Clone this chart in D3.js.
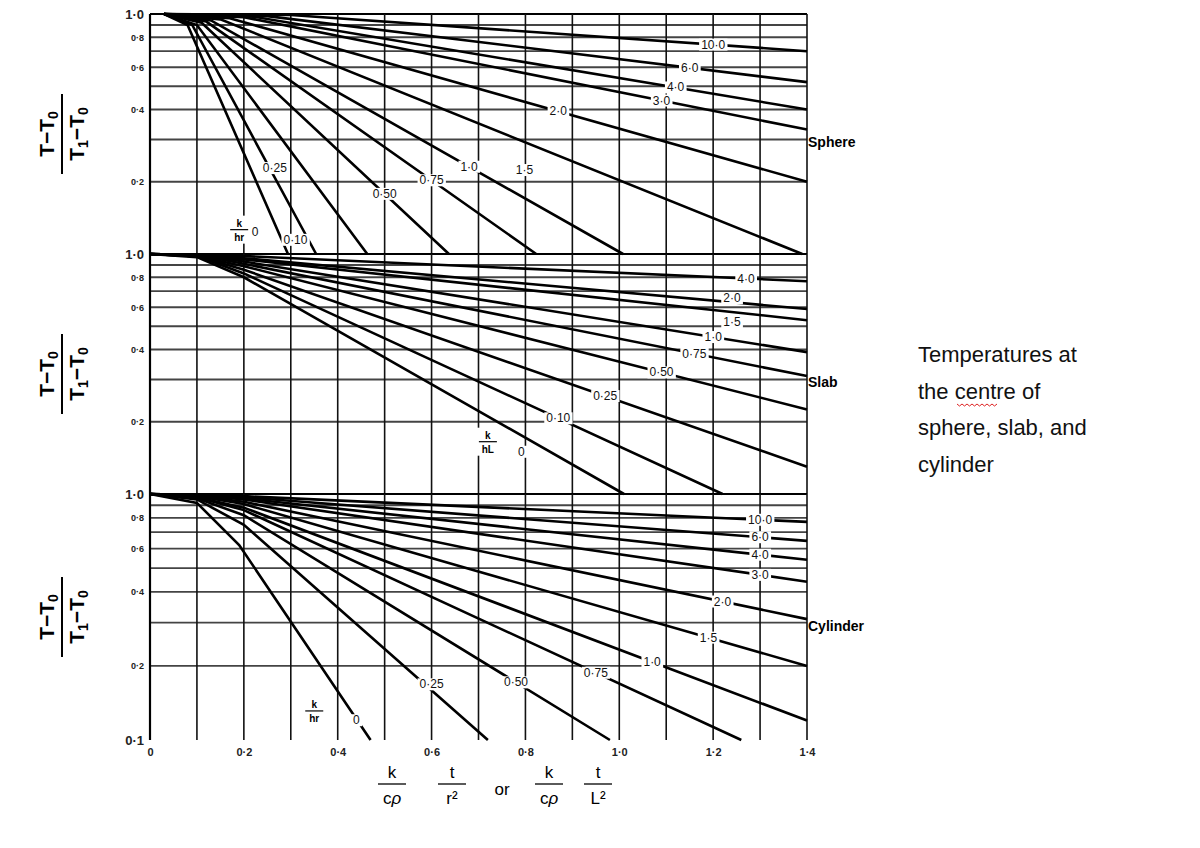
<!DOCTYPE html>
<html><head><meta charset="utf-8">
<script src="https://cdn.jsdelivr.net/npm/d3@7"></script>
<style>body{margin:0;background:#fff}</style></head>
<body><svg id="c" width="1200" height="848"></svg>
<script>
// ---- data ----
const xTicks = [0,0.2,0.4,0.6,0.8,1.0,1.2,1.4];
const yTickLabels = [1.0,0.8,0.6,0.4,0.2];
const yGrid = [1.0,0.9,0.8,0.7,0.6,0.5,0.4,0.3,0.2];
const xGrid = [0.1,0.2,0.3,0.4,0.5,0.6,0.7,0.8,0.9,1.0,1.1,1.2,1.3,1.4];

const sphereCurves = [
 {p:"0",    pts:[[0.03,1],[0.08,0.9],[0.294,0.1]], lx:0.245},
 {p:"0·10", pts:[[0.03,1],[0.09,0.9],[0.354,0.1]], lx:0.31},
 {p:"0·25", pts:[[0.03,1],[0.10,0.9],[0.463,0.1]], lx:0.33},
 {p:"0·50", pts:[[0.03,1],[0.11,0.92],[0.637,0.1]], lx:0.50},
 {p:"0·75", pts:[[0.03,1],[0.12,0.93],[0.823,0.1]], lx:0.60},
 {p:"1·0",  pts:[[0.03,1],[0.13,0.94],[1.008,0.1]], lx:0.68},
 {p:"1·5",  pts:[[0.03,1],[0.15,0.95],[1.39,0.1]], lx:0.83},
 {p:"2·0",  pts:[[0.03,1],[0.17,0.96],[1.4,0.20]], lx:0.87},
 {p:"3·0",  pts:[[0.03,1],[0.20,0.97],[1.4,0.33]], lx:1.09},
 {p:"4·0",  pts:[[0.03,1],[0.22,0.975],[1.4,0.40]], lx:1.12},
 {p:"6·0",  pts:[[0.03,1],[0.25,0.98],[1.4,0.52]], lx:1.15},
 {p:"10·0", pts:[[0.03,1],[0.30,0.99],[1.4,0.70]], lx:1.20}
];
const sphereLabelOffsets = {"0":[-10,30],"0·10":[0,24],"0·25":[-30,-2],"1·5":[-15,22]};

const slabCurves = [
 {p:"0",    pts:[[0,1],[0.1,0.97],[0.2,0.80],[1.01,0.1]], lx:0.77},
 {p:"0·10", pts:[[0,1],[0.1,0.98],[0.2,0.83],[1.22,0.1]], lx:0.87},
 {p:"0·25", pts:[[0,1],[0.1,0.98],[0.2,0.86],[1.4,0.13]], lx:0.97},
 {p:"0·50", pts:[[0,1],[0.1,0.98],[0.2,0.89],[1.4,0.225]], lx:1.09},
 {p:"0·75", pts:[[0,1],[0.1,0.99],[0.2,0.91],[1.4,0.31]], lx:1.16},
 {p:"1·0",  pts:[[0,1],[0.1,0.99],[0.2,0.93],[1.4,0.39]], lx:1.20},
 {p:"1·5",  pts:[[0,1],[0.1,0.99],[0.2,0.95],[1.4,0.53]], lx:1.24},
 {p:"2·0",  pts:[[0,1],[0.1,0.99],[0.2,0.96],[1.4,0.59]], lx:1.24},
 {p:"4·0",  pts:[[0,1],[0.2,0.98],[1.4,0.77]], lx:1.27}
];
const slabLabelOffsets = {"0":[10,22],"1·5":[0,10],"2·0":[0,-4]};

const cylCurves = [
 {p:"0",    pts:[[0,1],[0.1,0.92],[0.19,0.62],[0.47,0.1]], lx:0.41},
 {p:"0·25", pts:[[0,1],[0.1,0.95],[0.2,0.75],[0.72,0.1]], lx:0.60},
 {p:"0·50", pts:[[0,1],[0.1,0.96],[0.2,0.82],[0.98,0.1]], lx:0.78},
 {p:"0·75", pts:[[0,1],[0.1,0.97],[0.2,0.86],[1.26,0.1]], lx:0.95},
 {p:"1·0",  pts:[[0,1],[0.1,0.97],[0.2,0.88],[1.4,0.12]], lx:1.07},
 {p:"1·5",  pts:[[0,1],[0.1,0.98],[0.2,0.91],[1.4,0.20]], lx:1.19},
 {p:"2·0",  pts:[[0,1],[0.1,0.98],[0.2,0.93],[1.4,0.31]], lx:1.22},
 {p:"3·0",  pts:[[0,1],[0.1,0.99],[0.2,0.95],[1.4,0.44]], lx:1.30},
 {p:"4·0",  pts:[[0,1],[0.1,0.99],[0.2,0.96],[1.4,0.54]], lx:1.30},
 {p:"6·0",  pts:[[0,1],[0.2,0.97],[1.4,0.645]], lx:1.30},
 {p:"10·0", pts:[[0,1],[0.2,0.98],[1.4,0.77]], lx:1.30}
];
const cylLabelOffsets = {"0":[14,22],"0·25":[0,-6]};

const panels = [
 {name:"Sphere", curves:sphereCurves, off:sphereLabelOffsets, top:14, bottom:254, frac:["k","hr"], fracX:0.19, fracY:0.13},
 {name:"Slab", curves:slabCurves, off:slabLabelOffsets, top:254, bottom:494, frac:["k","hL"], fracX:0.72, fracY:0.17},
 {name:"Cylinder", curves:cylCurves, off:cylLabelOffsets, top:494, bottom:740, frac:["k","hr"], fracX:0.35, fracY:0.135}
];

// ---- drawing ----
const svg = d3.select("#c");
const F = "'Liberation Sans', Arial, sans-serif";
const x = d3.scaleLinear().domain([0,1.4]).range([150,807]);
const fmt = v => v===0 ? "0" : d3.format(".1f")(v).replace(".","·");

panels.forEach((pn,i)=>{
  const y = d3.scaleLog().domain([0.1,1]).range([pn.bottom,pn.top]);
  const g = svg.append("g");
  g.selectAll(".h").data(yGrid).join("line")
    .attr("x1",x(0)).attr("x2",x(1.4)).attr("y1",d=>y(d)).attr("y2",d=>y(d))
    .attr("stroke",d=>d===1?"#000":"#444").attr("stroke-width",d=>d===1?2.2:1.8);
  g.selectAll(".v").data(xGrid).join("line")
    .attr("x1",d=>x(d)).attr("x2",d=>x(d)).attr("y1",y(1)).attr("y2",y(0.1))
    .attr("stroke","#111").attr("stroke-width",1.6);
  g.append("line").attr("x1",x(0)).attr("x2",x(0)).attr("y1",y(1)).attr("y2",y(0.1)).attr("stroke","#000").attr("stroke-width",2.2);
  const ax = d3.axisLeft(y).tickValues(i===2?yTickLabels.concat([0.1]):yTickLabels).tickSize(0).tickFormat(fmt);
  const axg = g.append("g").attr("transform",`translate(${x(0)-3},0)`).call(ax);
  axg.select(".domain").remove();
  axg.selectAll("text").attr("font-family",F).attr("font-weight","bold")
     .attr("font-size",d=>d===1||d===0.1?13:9).attr("fill","#222");
  const line = d3.line().x(d=>x(d[0])).y(d=>y(d[1])).curve(d3.curveLinear);
  g.selectAll(".c").data(pn.curves).join("path")
    .attr("d",d=>line(d.pts)).attr("fill","none").attr("stroke","#000").attr("stroke-width",2.6);
  pn.curves.forEach(c=>{
    const pts=c.pts; let yv=pts[pts.length-1][1];
    for(let k=0;k<pts.length-1;k++){
      if(c.lx>=pts[k][0]&&c.lx<=pts[k+1][0]){
        const t=(c.lx-pts[k][0])/(pts[k+1][0]-pts[k][0]);
        yv=Math.exp(Math.log(pts[k][1])+t*(Math.log(pts[k+1][1])-Math.log(pts[k][1])));
      }
    }
    const o=pn.off[c.p]||[0,0];
    const px=x(c.lx)+o[0], py=y(yv)+o[1];
    const lg=g.append("g");
    const rect=lg.append("rect").attr("fill","#fff");
    const t=lg.append("text").attr("x",px).attr("y",py+4).attr("text-anchor","middle")
      .attr("font-family",F).attr("font-size",12).attr("fill","#111").text(c.p);
    const bb=t.node().getBBox();
    rect.attr("x",bb.x-2).attr("y",bb.y+1).attr("width",bb.width+4).attr("height",bb.height-2);
  });
  const fx=x(pn.fracX), fy=y(pn.fracY);
  g.append("rect").attr("x",fx-11).attr("y",fy-11).attr("width",22).attr("height",28).attr("fill","#fff");
  g.append("text").attr("x",fx).attr("y",fy).attr("text-anchor","middle").attr("font-family",F).attr("font-size",10).attr("font-weight","bold").text(pn.frac[0]);
  g.append("line").attr("x1",fx-9).attr("x2",fx+9).attr("y1",fy+3).attr("y2",fy+3).attr("stroke","#000").attr("stroke-width",1.2);
  g.append("text").attr("x",fx).attr("y",fy+14).attr("text-anchor","middle").attr("font-family",F).attr("font-size",10).attr("font-weight","bold").text(pn.frac[1]);
  g.append("text").attr("x",808).attr("y",y(0.3)+8).attr("font-family",F).attr("font-weight","bold").attr("font-size",14).text(pn.name);
  const cy=(pn.top+pn.bottom)/2;
  const tg=g.append("g").attr("transform",`translate(62,${cy}) rotate(-90)`);
  tg.append("text").attr("x",0).attr("y",-8).attr("text-anchor","middle").attr("font-family",F).attr("font-weight","bold").attr("font-size",21)
    .html("T−T<tspan font-size='14' dy='4'>0</tspan>");
  tg.append("line").attr("x1",-40).attr("x2",40).attr("y1",0).attr("y2",0).attr("stroke","#000").attr("stroke-width",2);
  tg.append("text").attr("x",0).attr("y",22).attr("text-anchor","middle").attr("font-family",F).attr("font-weight","bold").attr("font-size",21)
    .html("T<tspan font-size='14' dy='4'>1</tspan><tspan dy='-4'>−T</tspan><tspan font-size='14' dy='4'>0</tspan>");
});

const xa = svg.append("g").attr("transform","translate(0,745)").call(d3.axisBottom(x).tickValues(xTicks).tickSize(0).tickFormat(fmt));
xa.select(".domain").remove();
xa.selectAll("text").attr("font-family",F).attr("font-weight","bold").attr("font-size",11).attr("fill","#222");

function frac(cx,top,bot){
  svg.append("text").attr("x",cx).attr("y",778).attr("text-anchor","middle").attr("font-family",F).attr("font-size",17).html(top);
  svg.append("line").attr("x1",cx-14).attr("x2",cx+14).attr("y1",784).attr("y2",784).attr("stroke","#000").attr("stroke-width",1.3);
  svg.append("text").attr("x",cx).attr("y",804).attr("text-anchor","middle").attr("font-family",F).attr("font-size",17).html(bot);
}
frac(392,"k","c<tspan font-style='italic'>ρ</tspan>");
frac(452,"t","r²");
svg.append("text").attr("x",502).attr("y",795).attr("text-anchor","middle").attr("font-family",F).attr("font-size",17).text("or");
frac(549,"k","c<tspan font-style='italic'>ρ</tspan>");
frac(598,"t","L²");

const note=["Temperatures at","the centre of","sphere, slab, and","cylinder"];
svg.selectAll(".n").data(note).join("text").attr("x",918).attr("y",(d,i)=>362+i*36.5)
  .attr("font-family",F).attr("font-size",22).attr("fill","#111").text(d=>d);
let wp="M957,404"; for(let k=0;k<16;k++){wp+=` l2.5,${k%2?-2:2}`}
svg.append("path").attr("d",wp).attr("fill","none").attr("stroke","#d22").attr("stroke-width",1);
</script></body></html>
